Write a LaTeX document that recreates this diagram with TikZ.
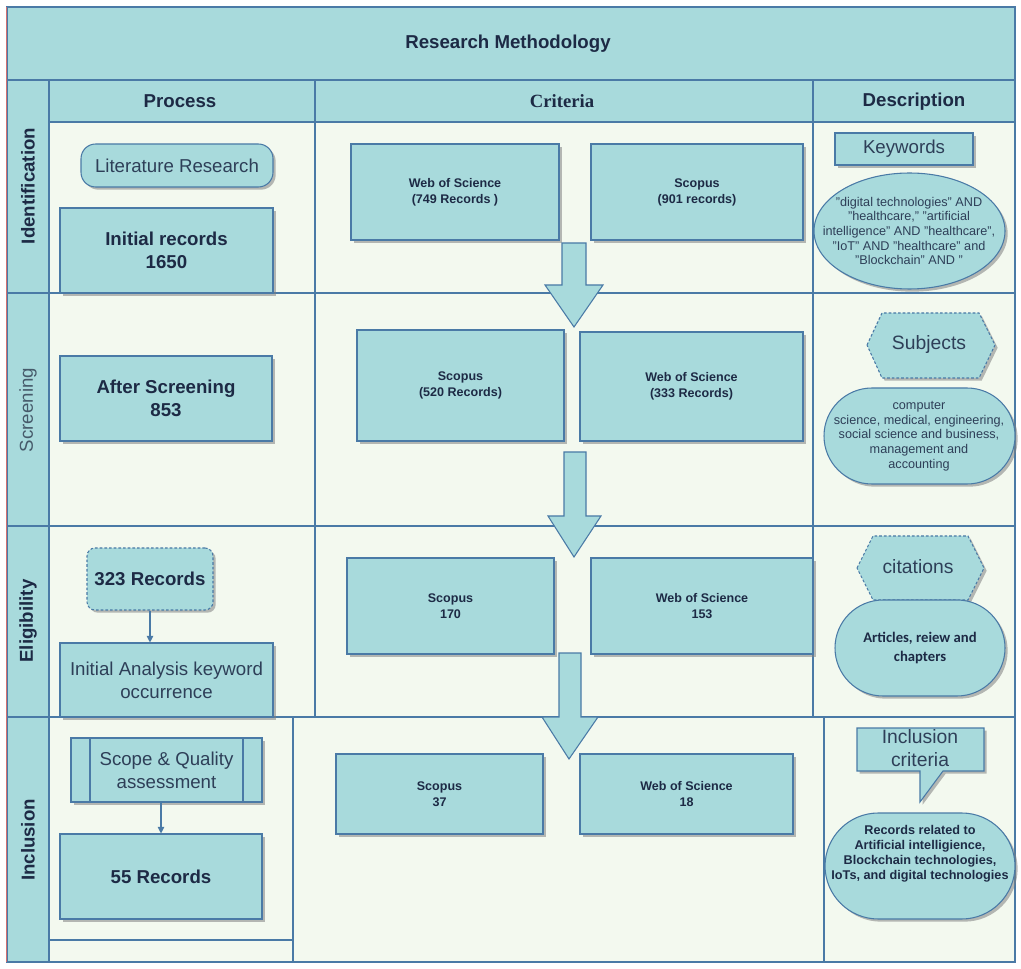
\documentclass[tikz,border=0pt]{standalone}
\usepackage{fontspec}
\setmainfont{Liberation Sans}
\newfontfamily\serifbf{Liberation Serif}
\newfontfamily\calib{Carlito}
\usetikzlibrary{shadows,arrows.meta,shapes.geometric}
\definecolor{teal1}{HTML}{A8DADC}
\definecolor{bord}{HTML}{4A7AA6}
\definecolor{cellbg}{HTML}{F3F9EF}
\definecolor{txt}{HTML}{1D2A45}
\definecolor{txtr}{HTML}{2E3F58}
\definecolor{lanegray}{HTML}{465A6A}
\definecolor{redline}{HTML}{D27070}
\begin{document}
\begin{tikzpicture}[x=0.75pt,y=-0.75pt,
  grid/.style={draw=bord,line width=0.8pt},
  shad/.style={drop shadow={shadow xshift=2pt,shadow yshift=-2pt,fill=black!50,opacity=0.55}},
  sz/.style 2 args={minimum width=#1*0.75pt,minimum height=#2*0.75pt},
  box/.style={draw=bord,fill=teal1,line width=0.8pt,inner sep=0pt,align=center,text=txt,shad},
  blockarrow/.style={draw=bord,fill=teal1,line width=0.8pt},
  lbl/.style={inner sep=0pt,align=center,text=txt},
  bigb/.style={font=\fontsize{14}{17}\selectfont\bfseries},
  bigr/.style={font=\fontsize{14}{17.3}\selectfont,text=txtr},
  smallb/.style={font=\fontsize{9.4}{12}\selectfont\bfseries},
  smallr/.style={font=\fontsize{9.5}{11}\selectfont,text=txtr},
  smallbb/.style={font=\fontsize{9.5}{11.3}\selectfont\bfseries},
  arr/.style={draw=bord,line width=0.8pt,-{Triangle[length=5pt,width=5pt]}}
]
\useasboundingbox (0,0) rectangle (1021,969);
\fill[white] (0,0) rectangle (1021,969);
% backgrounds
\fill[teal1] (7,7) rectangle (1015,80);
\fill[teal1] (7,80) rectangle (49,962);
\fill[teal1] (49,80) rectangle (1015,122);
\fill[cellbg] (49,122) rectangle (1015,962);
% grid lines
\draw[grid] (7,7) rectangle (1015,962);
\draw[grid] (7,80) -- (1015,80);
\draw[grid] (49,122) -- (1015,122);
\draw[grid] (7,293) -- (1015,293);
\draw[grid] (7,526) -- (1015,526);
\draw[grid] (7,717) -- (1015,717);
\draw[grid] (49,80) -- (49,962);
\draw[grid] (315,80) -- (315,717);
\draw[grid] (813,80) -- (813,717);
\draw[grid] (293,717) -- (293,962);
\draw[grid] (824,717) -- (824,962);
\draw[grid] (49,940) -- (293,940);
\draw[redline,line width=0.6pt] (6,7) -- (6,962);
% title and headers
\node[lbl,bigb] (title) at (508,44) {Research Methodology};
\node[lbl,bigb] (hproc) at (180,101) {Process};
\node[lbl,font=\fontsize{14}{17}\serifbf\bfseries] (hcrit) at (562,101) {Criteria};
\node[lbl,bigb] (hdesc) at (914,102) {Description};
% lane labels
\node[lbl,bigb,rotate=90] (lid) at (28,186) {Identification};
\node[lbl,font=\fontsize{14}{17}\selectfont,text=lanegray,rotate=90] (lsc) at (28,410) {Screening};
\node[lbl,bigb,rotate=90] (lel) at (28,621) {Eligibility};
\node[lbl,bigb,rotate=90] (lin) at (28,840) {Inclusion};
% ---- Identification
\node[box,bigr,rounded corners=11pt,sz={192}{43}] (litres) at (177,165.5) {Literature Research};
\node[box,bigb,sz={213}{85}] (init) at (166.5,250.5) {Initial records\\1650};
\node[box,smallb,sz={208}{96}] (wos1) at (455,192) {Web of Science\\(749 Records )};
\node[box,smallb,sz={212}{96}] (sco1) at (697,192) {Scopus\\(901 records)};
\node[box,bigr,sz={138}{32}] (kw) at (904,149) {Keywords};
\node[box,ellipse,sz={191}{116}] (kwell) at (909.5,231) {};
\node[lbl,smallr] (kwtxt) at (909,231) {"digital technologies" AND\\"healthcare," "artificial\\intelligence" AND "healthcare",\\"IoT" AND "healthcare" and\\"Blockchain" AND "};
% ---- Screening
\node[box,bigb,sz={212}{85}] (after) at (166,398.5) {After Screening\\853};
\node[box,smallb,sz={207}{111}] (sco2) at (460.5,385.5) {Scopus\\(520 Records)};
\node[box,smallb,sz={223}{109}] (wos2) at (691.5,386.5) {Web of Science\\(333 Records)};
\draw[draw=bord,fill=teal1,line width=0.8pt,dashed,dash pattern=on 2pt off 1.5pt,shad]
  (867,345) -- (882,313) -- (979,313) -- (995,345) -- (979,378) -- (882,378) -- cycle;
\node[lbl,bigr,font=\fontsize{14.5}{17}\selectfont] (subj) at (929,345) {Subjects};
\node[box,rounded corners=36pt,sz={191}{96}] (subjst) at (919.5,436) {};
\node[lbl,smallr] (subjtxt) at (919,436) {computer\\science, medical, engineering,\\social science and business,\\management and\\accounting};
% ---- Eligibility
\node[box,bigb,rounded corners=6pt,dashed,dash pattern=on 2pt off 1.5pt,sz={126}{62}] (r323) at (150,579) {323 Records};
\node[box,bigr,sz={213}{74}] (ana) at (166.5,680) {Initial Analysis keyword\\occurrence};
\draw[arr] (r323.south) -- (r323.south |- ana.north);
\node[box,smallb,sz={207}{96}] (sco3) at (450.5,606) {Scopus\\170};
\node[box,smallb,sz={222}{96}] (wos3) at (702,606) {Web of Science\\153};
\draw[draw=bord,fill=teal1,line width=0.8pt,dashed,dash pattern=on 2pt off 1.5pt,shad]
  (857,568) -- (873,536) -- (968,536) -- (984,568) -- (968,600) -- (873,600) -- cycle;
\node[lbl,bigr,font=\fontsize{14.5}{17}\selectfont] (cit) at (918,567) {citations};
\node[box,rounded corners=36pt,sz={170}{96}] (citst) at (920,648) {};
\node[lbl,font=\fontsize{11}{14.3}\calib\bfseries] (cittxt) at (920,648) {Articles, reiew and\\chapters};
% ---- Inclusion
\node[box,bigr,sz={191}{64}] (scope) at (166.5,770) {Scope \& Quality\\assessment};
\draw[draw=bord,line width=0.8pt] (90,738) -- (90,802);
\draw[draw=bord,line width=0.8pt] (243,738) -- (243,802);
\node[box,bigb,sz={202}{85}] (r55) at (161,876.5) {55 Records};
\draw[arr] (161,802) -- (r55.north -| 161,802);
\node[box,smallb,sz={207}{80}] (sco4) at (439.5,794) {Scopus\\37};
\node[box,smallb,sz={213}{80}] (wos4) at (686.5,794) {Web of Science\\18};
\draw[draw=bord,fill=teal1,line width=0.8pt,shad]
  (857,728) -- (984,728) -- (984,771) -- (943,771) -- (920,802) -- (920,771) -- (857,771) -- cycle;
\node[lbl,bigr,font=\fontsize{14.5}{17.3}\selectfont] (inccrit) at (920,748) {Inclusion\\criteria};
\node[box,rounded corners=40pt,sz={190}{106}] (incst) at (920,866) {};
\node[lbl,smallbb] (inctxt) at (920,854) {Records related to\\Artificial intelligience,\\Blockchain technologies,\\IoTs, and digital technologies};
% ---- block arrows
\draw[blockarrow] (562,243) -- (586,243) -- (586,285) -- (603,285) -- (574,327) -- (545,285) -- (562,285) -- cycle;
\draw[blockarrow] (564,452) -- (586,452) -- (586,516) -- (601,516) -- (574,557) -- (548,516) -- (564,516) -- cycle;
\draw[blockarrow] (559,653) -- (581,653) -- (581,717) -- (598,717) -- (569,759) -- (542,717) -- (559,717) -- cycle;
\end{tikzpicture}
\end{document}
